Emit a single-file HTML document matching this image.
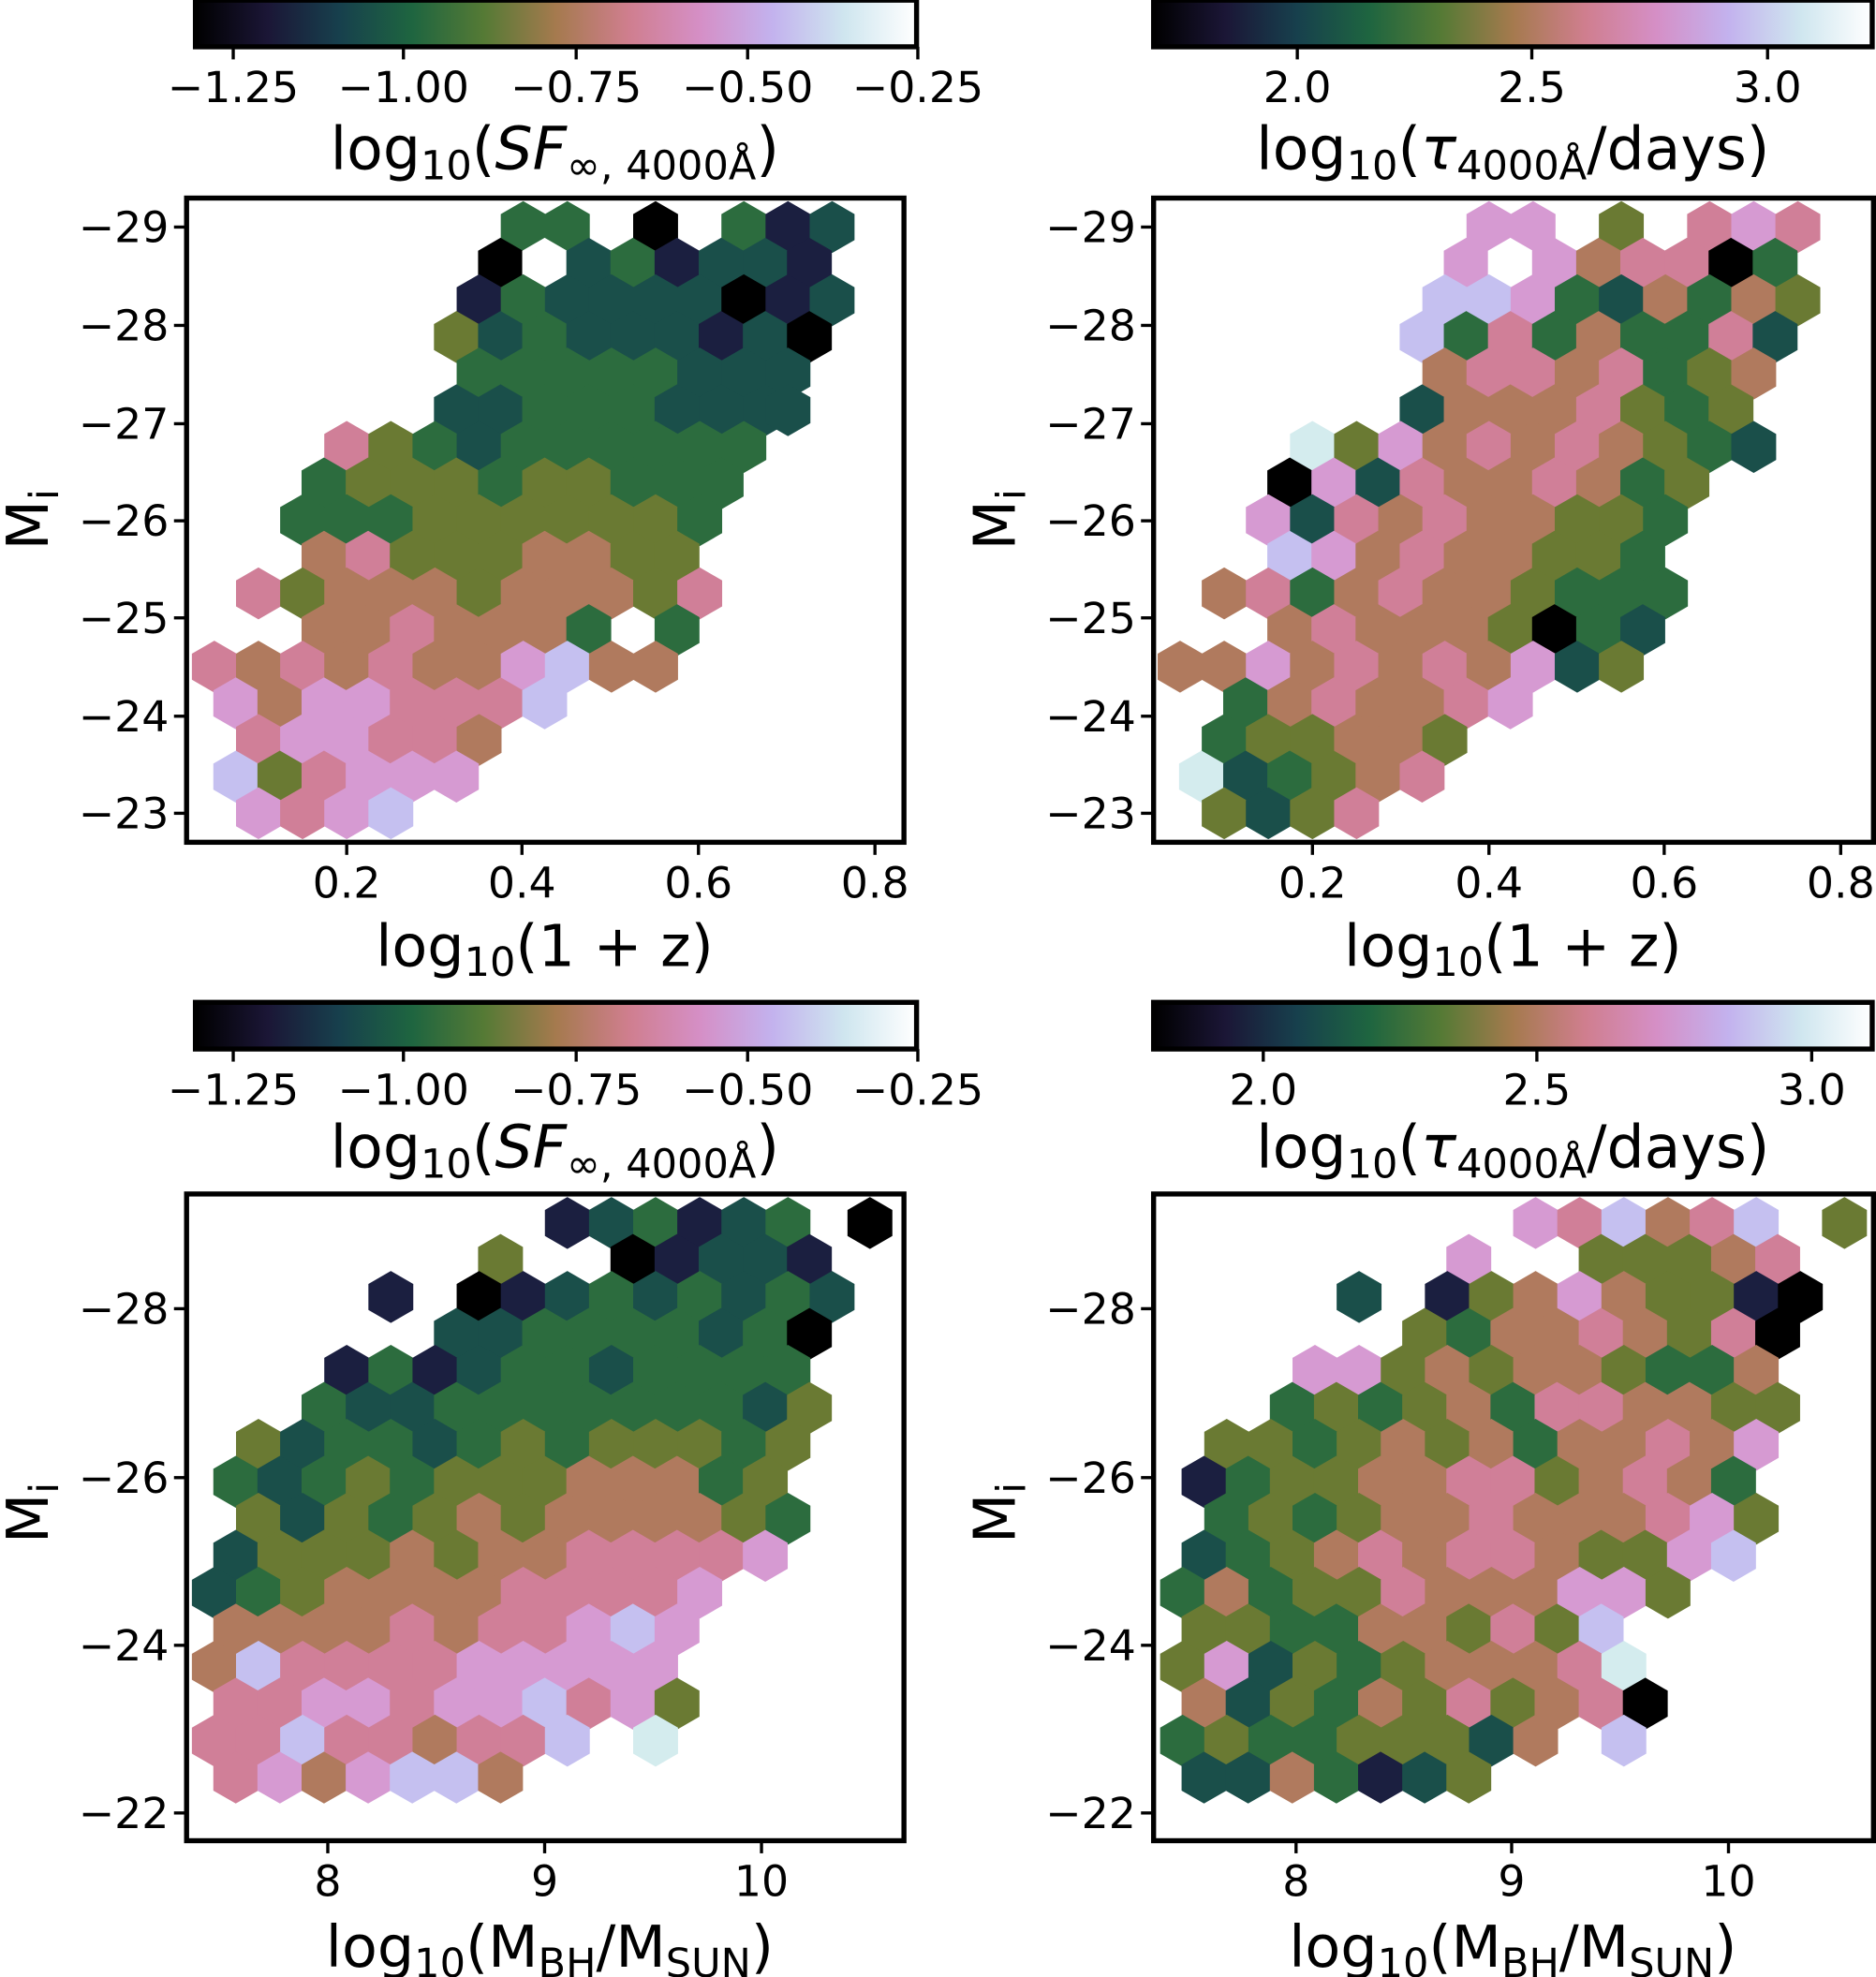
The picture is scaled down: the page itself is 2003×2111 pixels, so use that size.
<!DOCTYPE html>
<html><head><meta charset="utf-8"><style>
html,body{margin:0;padding:0;background:#fff;}
svg{display:block;font-family:"DejaVu Sans","Liberation Sans",sans-serif;}
</style></head><body>
<svg id="s" width="2003" height="2111" viewBox="0 0 1488 1568" xmlns="http://www.w3.org/2000/svg">
<defs>
<linearGradient id="ch" x1="0" x2="1" y1="0" y2="0">
<stop offset="0" stop-color="#000000"/>
<stop offset="0.1" stop-color="#1b1636"/>
<stop offset="0.2" stop-color="#17404d"/>
<stop offset="0.3" stop-color="#1e6540"/>
<stop offset="0.4" stop-color="#557a35"/>
<stop offset="0.5" stop-color="#a57a4e"/>
<stop offset="0.6" stop-color="#cf7e8e"/>
<stop offset="0.7" stop-color="#d58fc6"/>
<stop offset="0.8" stop-color="#c3b2ee"/>
<stop offset="0.9" stop-color="#cfe6ef"/>
<stop offset="1" stop-color="#ffffff"/>
</linearGradient>
</defs>
<g id="g"></g>
</svg>
<script>
const C={k:"#000000",n:"#1b1f40",t:"#1a4f4a",g:"#2c6c3e",o:"#6a7a33",b:"#b07a5e",p:"#d07f98",m:"#d69ad2",l:"#c5c0f0",c:"#d4ecee",w:"#ffffff"};
let out="";
function hex(x,y,col){const r=20.6;let p=[];for(let i=0;i<6;i++){const a=Math.PI/180*(60*i-90);p.push((x+r*Math.cos(a)).toFixed(1)+","+(y+r*Math.sin(a)).toFixed(1));}out+=`<polygon points="${p.join(" ")}" fill="${C[col]}"/>`;}
function panel(rows,y0,dy){rows.forEach((row,r)=>{const y=y0+dy*r;row.split(" ").forEach(tok=>{const x=parseFloat(tok);const c=tok.replace(/[0-9.]/g,"");hex(x,y,c);});});}
panel(["415g 450g 520k 590g 625n 660t",
"397k 432w 467t 502g 537n 572t 607t 642n",
"380n 415g 450t 485t 520t 555t 590k 625n 660t",
"362o 397t 432g 467t 502t 537t 572n 607t 642k",
"380g 415g 450g 485g 520g 555t 590t 625t",
"362t 397t 432g 467g 502g 537t 572t 607t 625t",
"275p 310o 345g 380t 415g 450g 485g 520g 555g 590g",
"257g 292o 327o 362o 397g 432o 467o 502g 537g 572g",
"240g 275g 310g 345o 380o 415o 450o 485o 520o 555g",
"257b 292p 327o 362o 397o 432b 467b 502o 537o",
"205p 240o 275b 310b 345b 380o 415b 450b 485b 520o 555p",
"257b 292b 327p 362b 397b 432b 467g 537g",
"170p 205b 240p 275b 310p 345b 380b 415m 450l 485b 520b",
"187m 222b 257m 292m 327p 362p 397p 432l",
"205p 240m 275m 310p 345p 380b",
"187l 222o 257p 292m 327m 362m",
"205m 240p 275m 310l"],180,29.06);
panel(["1181m 1216m 1286o 1356p 1391m 1426p",
"1163m 1198w 1233m 1268b 1303p 1338p 1373k 1408g",
"1146l 1181l 1216m 1251g 1286t 1321b 1356g 1391b 1426o",
"1128l 1163g 1198p 1233g 1268b 1303g 1338g 1373p 1408t",
"1146b 1181p 1216p 1251b 1286p 1321g 1356o 1391b",
"1128t 1163b 1198b 1233b 1268p 1303o 1338g 1373o",
"1041c 1076o 1111m 1146b 1181p 1216b 1251p 1286b 1321o 1356g 1391t",
"1023k 1058m 1093t 1128p 1163b 1198b 1233p 1268b 1303g 1338o",
"1006m 1041t 1076p 1111b 1146p 1181b 1216b 1251o 1286o 1321g",
"1023l 1058m 1093b 1128p 1163b 1198b 1233o 1268o 1303g",
"971b 1006p 1041g 1076b 1111p 1146b 1181b 1216o 1251g 1286g 1321g",
"1023b 1058p 1093b 1128b 1163b 1198o 1233k 1268g 1303t",
"936b 971b 1006m 1041b 1076p 1111b 1146p 1181b 1216m 1251t 1286o",
"988g 1023b 1058p 1093b 1128b 1163p 1198m",
"971g 1006o 1041o 1076b 1111b 1146o",
"953c 988t 1023g 1058o 1093b 1128p",
"971o 1006t 1041o 1076p"],180,29.06);
panel(["450n 485t 520g 555n 590t 625g 690k",
"397o 502k 537n 572t 607t 642n",
"310n 380k 415n 450t 485g 520t 555g 590t 625g 660t",
"362t 397t 432g 467g 502g 537g 572t 607g 642k",
"275n 310g 345n 380t 415g 450g 485t 520g 555g 590g 625g",
"257g 292t 327t 362g 397g 432g 467g 502g 537g 572g 607t 642o",
"205o 240t 275g 310g 345t 380g 415o 450g 485o 520o 555o 590g 625o",
"187g 222t 257g 292o 327g 362o 397o 432o 467b 502b 537b 572g 607o",
"205o 240t 275o 310g 345o 380b 415o 450b 485b 520b 555b 590o 625g",
"187t 222o 257o 292o 327b 362o 397b 432b 467p 502p 537p 572p 607m",
"170t 205g 240o 275b 310b 345b 380b 415p 450p 485p 520p 555m",
"187b 222b 257b 292b 327p 362b 397p 432p 467m 502l 537m",
"170b 205l 240p 275p 310p 345p 380m 415m 450m 485m 520m",
"187p 222p 257m 292m 327p 362m 397m 432l 467p 502m 537o",
"170p 205p 240l 275p 310p 345b 380p 415p 450l 520c",
"187p 222m 257b 292m 327l 362l 397b"],970,29.33);
panel(["1218m 1253p 1288l 1323b 1358p 1393l 1463o",
"1165m 1270o 1305o 1340o 1375b 1410p",
"1078t 1148n 1183o 1218b 1253m 1288b 1323o 1358o 1393n 1428k",
"1130o 1165g 1200b 1235b 1270p 1305b 1340o 1375p 1410k",
"1043m 1078m 1113o 1148b 1183o 1218b 1253b 1288o 1323g 1358g 1393b",
"1025g 1060o 1095g 1130o 1165b 1200g 1235p 1270p 1305b 1340b 1375o 1410o",
"973o 1008o 1043g 1078o 1113b 1148o 1183b 1218g 1253b 1288b 1323p 1358b 1393m",
"955n 990g 1025o 1060o 1095b 1130b 1165p 1200p 1235o 1270b 1305p 1340b 1375g",
"973g 1008o 1043g 1078o 1113b 1148b 1183p 1218b 1253b 1288b 1323p 1358m 1393o",
"955t 990g 1025o 1060b 1095p 1130b 1165p 1200p 1235b 1270o 1305o 1340m 1375l",
"938g 973b 1008g 1043o 1078o 1113p 1148b 1183b 1218b 1253m 1288m 1323o",
"955o 990o 1025g 1060g 1095b 1130b 1165o 1200p 1235o 1270l",
"938o 973m 1008t 1043o 1078g 1113o 1148b 1183b 1218b 1253p 1288c",
"955b 990t 1025o 1060g 1095b 1130o 1165p 1200o 1235b 1270p 1305k",
"938g 973o 1008g 1043g 1078o 1113o 1148o 1183t 1218b 1288l",
"955t 990t 1025b 1060g 1095n 1130t 1165o"],970,29.33);

function txt(x,y,s,size,anchor,extra){out+=`<text x="${x}" y="${y}" font-size="${size}" text-anchor="${anchor||"middle"}" ${extra||""}>${s}</text>`;}
function frame(x0,y0,x1,y1){out+=`<rect x="${x0}" y="${y0}" width="${x1-x0}" height="${y1-y0}" fill="none" stroke="#000" stroke-width="4"/>`;}
function yt(x0,ys,labs){ys.forEach((y,i)=>{out+=`<line x1="${x0-10}" y1="${y}" x2="${x0}" y2="${y}" stroke="#000" stroke-width="2.5"/>`;txt(x0-14,y+12,labs[i],34,"end");});}
function xt(y0,xs,labs){xs.forEach((x,i)=>{out+=`<line x1="${x}" y1="${y0}" x2="${x}" y2="${y0+10}" stroke="#000" stroke-width="2.5"/>`;txt(x,y0+44,labs[i],34);});}
function cbar(x0,x1,y0,y1,xs,labs){out+=`<rect x="${x0}" y="${y0}" width="${x1-x0}" height="${y1-y0}" fill="url(#ch)" stroke="#000" stroke-width="4"/>`;xs.forEach((x,i)=>{out+=`<line x1="${x}" y1="${y1}" x2="${x}" y2="${y1+10}" stroke="#000" stroke-width="2.5"/>`;txt(x,y1+44,labs[i],34);});}
frame(148,157,717,668);frame(915,157,1486,668);frame(148,947,717,1460);frame(915,947,1486,1460);
const ytop=[180,258,336,413,490,568,645],ltop=["−29","−28","−27","−26","−25","−24","−23"];
yt(148,ytop,ltop);yt(915,ytop,ltop);
const ybot=[1038,1172,1305,1438],lbot=["−28","−26","−24","−22"];
yt(148,ybot,lbot);yt(915,ybot,lbot);
xt(668,[275,414,554,694],["0.2","0.4","0.6","0.8"]);
xt(668,[1041,1181,1320,1460],["0.2","0.4","0.6","0.8"]);
xt(1460,[260,432,604],["8","9","10"]);
xt(1460,[1028,1199,1371],["8","9","10"]);
cbar(155,727,0,37,[185,320,457,593,728],["−1.25","−1.00","−0.75","−0.50","−0.25"]);
cbar(915,1485,0,37,[1029,1215,1402],["2.0","2.5","3.0"]);
cbar(155,727,795,832,[185,320,457,593,728],["−1.25","−1.00","−0.75","−0.50","−0.25"]);
cbar(915,1485,795,832,[1002,1219,1437],["2.0","2.5","3.0"]);
const SF='log<tspan font-size="32" dy="8">10</tspan><tspan dy="-8">(</tspan><tspan font-style="italic">SF</tspan><tspan font-size="32" dy="8">∞, 4000Å</tspan><tspan dy="-8">)</tspan>';
const TAU='log<tspan font-size="32" dy="8">10</tspan><tspan dy="-8">(</tspan><tspan font-style="italic">τ</tspan><tspan font-size="32" dy="8">4000Å</tspan><tspan dy="-8">/days)</tspan>';
const Z='log<tspan font-size="32" dy="8">10</tspan><tspan dy="-8">(1 + z)</tspan>';
const MBH='log<tspan font-size="32" dy="8">10</tspan><tspan dy="-8">(M</tspan><tspan font-size="32" dy="8">BH</tspan><tspan dy="-8">/M</tspan><tspan font-size="32" dy="8">SUN</tspan><tspan dy="-8">)</tspan>';
txt(440,134,SF,47);txt(1200,134,TAU,47);txt(440,926,SF,47);txt(1200,926,TAU,47);
txt(432,766,Z,46);txt(1200,766,Z,46);txt(436,1560,MBH,46);txt(1200,1560,MBH,46);
function mi(x,y){out+=`<text transform="translate(${x},${y}) rotate(-90)" font-size="46" text-anchor="middle">M<tspan font-size="32" dy="8">i</tspan></text>`;}
mi(38,412);mi(805,412);mi(38,1200);mi(805,1200);
document.getElementById("g").innerHTML=out;
</script>
</body></html>
